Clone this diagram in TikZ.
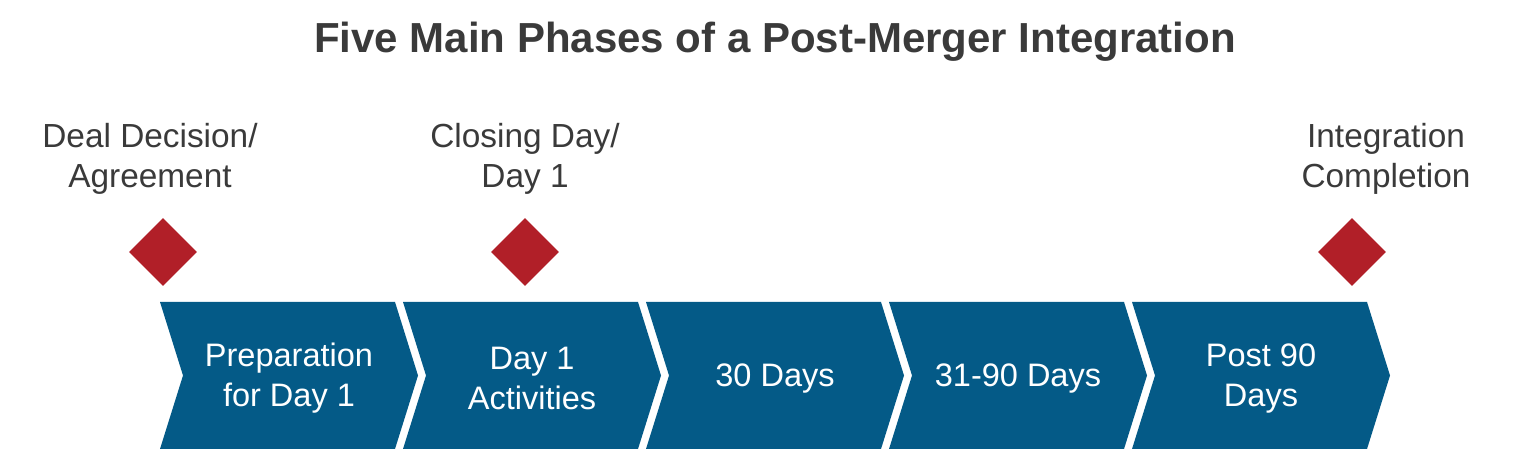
\documentclass[tikz,border=0pt]{standalone}
\usepackage{fontspec}
\setmainfont{Liberation Sans}
\usetikzlibrary{shapes.geometric}
\definecolor{phaseblue}{HTML}{045A87}
\definecolor{milestonered}{HTML}{B11F28}
\definecolor{labelgray}{HTML}{3A3A3A}
\begin{document}
\begin{tikzpicture}[
  phase/.style={fill=phaseblue},
  phasetext/.style={text=white, align=center, font=\fontsize{18.5}{22.8}\selectfont},
  milestone/.style={diamond, fill=milestonered, minimum width=1.36cm, minimum height=1.36cm, inner sep=0pt},
  milestonetext/.style={text=labelgray, align=center, font=\fontsize{19}{22.8}\selectfont}
]
\useasboundingbox (0,0) rectangle (30.72,8.98);

% Title
\node[anchor=base, text=labelgray, font=\fontsize{23.9}{28}\selectfont\bfseries] (title) at (15.5,7.92) {Five Main Phases of a Post-Merger Integration};

% Draw the chevrons and insert the phase names
\fill[phase] (3.2,0) -- (7.9,0) -- (8.36,1.47) -- (7.9,2.94) -- (3.2,2.94) -- (3.66,1.47) -- cycle;
\node[phasetext] (prep) at (5.78,1.41) {Preparation\\for Day 1};
\fill[phase] (8.06,0) -- (12.76,0) -- (13.22,1.47) -- (12.76,2.94) -- (8.06,2.94) -- (8.52,1.47) -- cycle;
\node[phasetext] (dayone) at (10.64,1.41) {Day 1\\Activities};
\fill[phase] (12.92,0) -- (17.62,0) -- (18.08,1.47) -- (17.62,2.94) -- (12.92,2.94) -- (13.38,1.47) -- cycle;
\node[phasetext] (thirty) at (15.50,1.41) {30 Days};
\fill[phase] (17.78,0) -- (22.48,0) -- (22.94,1.47) -- (22.48,2.94) -- (17.78,2.94) -- (18.24,1.47) -- cycle;
\node[phasetext] (ninety) at (20.36,1.41) {31-90 Days};
\fill[phase] (22.64,0) -- (27.34,0) -- (27.80,1.47) -- (27.34,2.94) -- (22.64,2.94) -- (23.10,1.47) -- cycle;
\node[phasetext] (post) at (25.22,1.41) {Post 90\\Days};

% Milestones
\node[milestone] (deal) at (3.26,3.94) {};
\node[milestonetext] (dealtext) at (3.0,5.80) {Deal Decision/\\Agreement};
\node[milestone] (closing) at (10.5,3.94) {};
\node[milestonetext] (closingtext) at (10.5,5.80) {Closing Day/\\Day 1};
\node[milestone] (done) at (27.04,3.94) {};
\node[milestonetext] (donetext) at (27.72,5.80) {Integration\\Completion};
\end{tikzpicture}
\end{document}
